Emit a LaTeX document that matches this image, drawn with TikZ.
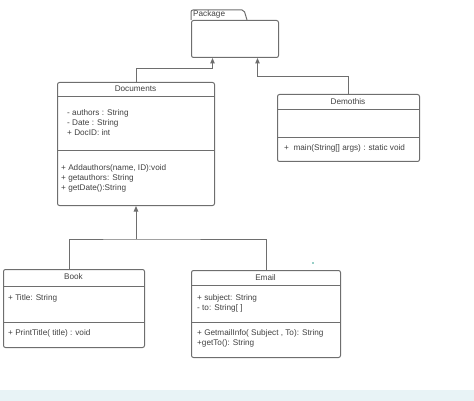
\documentclass[tikz,border=0pt]{standalone}
\usepackage{fontspec}
\setmainfont{Liberation Sans}
\usetikzlibrary{arrows.meta,positioning,calc}
\definecolor{umlline}{HTML}{6E6E6E}
\definecolor{umltext}{HTML}{404040}
\definecolor{bandblue}{HTML}{E8F3F6}
\definecolor{dotteal}{HTML}{2F9E8E}

\tikzset{
  classbox/.style={draw=umlline,line width=1pt,rounded corners=2pt,inner sep=0pt,anchor=north west},
  sepline/.style={draw=umlline,line width=1pt},
  classname/.style={font=\fontsize{8.2}{10}\selectfont,text=umltext,inner sep=0pt},
  member/.style={font=\fontsize{8.2}{10}\selectfont,text=umltext,align=left,anchor=west,inner sep=0pt},
  wire/.style={draw=umlline,line width=1pt},
  inherit/.style={wire,-{Triangle[width=4.5pt,length=5.5pt]}}
}

\begin{document}
\begin{tikzpicture}[x=1pt,y=-1pt]
\useasboundingbox (0,0) rectangle (474,401);
\fill[bandblue] (0,390) rectangle (474,401);

% package
\draw[wire,rounded corners=2pt] (191,20) -- (191,10) -- (244,10) -- (247,20);
\node[classbox,minimum width=87pt,minimum height=37pt] (pkg) at (191,20) {};
\node[classname,anchor=west] (pkglabel) at (193,14.5) {Package};

% Documents
\node[classbox,minimum width=157pt,minimum height=123pt] (docs) at (57,82) {};
\node[classname] (docsname) at (135.5,89) {Documents};
\draw[sepline] (docs.west |- 0,97) -- (docs.east |- 0,97);
\draw[sepline] (docs.west |- 0,151) -- (docs.east |- 0,151);
\node[member] (docsattr) at (67,123) {- authors : String\\- Date : String\\+ DocID: int};
\node[member] (docsops) at (61,178) {+ Addauthors(name, ID):void\\+ getauthors: String\\+ getDate():String};

% Demothis
\node[classbox,minimum width=142pt,minimum height=67pt] (demo) at (277,94) {};
\node[classname] (demoname) at (348,102) {Demothis};
\draw[sepline] (demo.west |- 0,110) -- (demo.east |- 0,110);
\draw[sepline] (demo.west |- 0,138) -- (demo.east |- 0,138);
\node[member] (demoops) at (284,148) {+\ \ main(String[] args) : static void};

% Book
\node[classbox,minimum width=141pt,minimum height=78pt] (book) at (3,269) {};
\node[classname] (bookname) at (73.5,277) {Book};
\draw[sepline] (book.west |- 0,286) -- (book.east |- 0,286);
\draw[sepline] (book.west |- 0,322) -- (book.east |- 0,322);
\node[member] (bookattr) at (8,298) {+ Title: String};
\node[member] (bookops) at (8,333) {+ PrintTitle( title) : void};

% Email
\node[classbox,minimum width=149pt,minimum height=87pt] (email) at (191,270) {};
\node[classname] (emailname) at (265.5,277.5) {Email};
\draw[sepline] (email.west |- 0,285) -- (email.east |- 0,285);
\draw[sepline] (email.west |- 0,322) -- (email.east |- 0,322);
\node[member] (emailattr) at (197,303) {+ subject: String\\- to: String[ ]};
\node[member] (emailops) at (197,338) {+ GetmailInfo( Subject , To): String\\+getTo(): String};

% connectors
\draw[inherit] (docs.north) -- (docs.north |- 0,69) -| ([xshift=-22.5pt]pkg.south);
\draw[inherit] (demo.north) -- (demo.north |- 0,77) -| ([xshift=22.5pt]pkg.south);
\coordinate (split) at (docs.south |- 0,239);
\draw[wire] ([xshift=-4.5pt]book.north) |- (split) -| (email.north);
\draw[inherit] (split) -- (docs.south);

\fill[dotteal] (313,263) circle (0.9pt);
\end{tikzpicture}
\end{document}
